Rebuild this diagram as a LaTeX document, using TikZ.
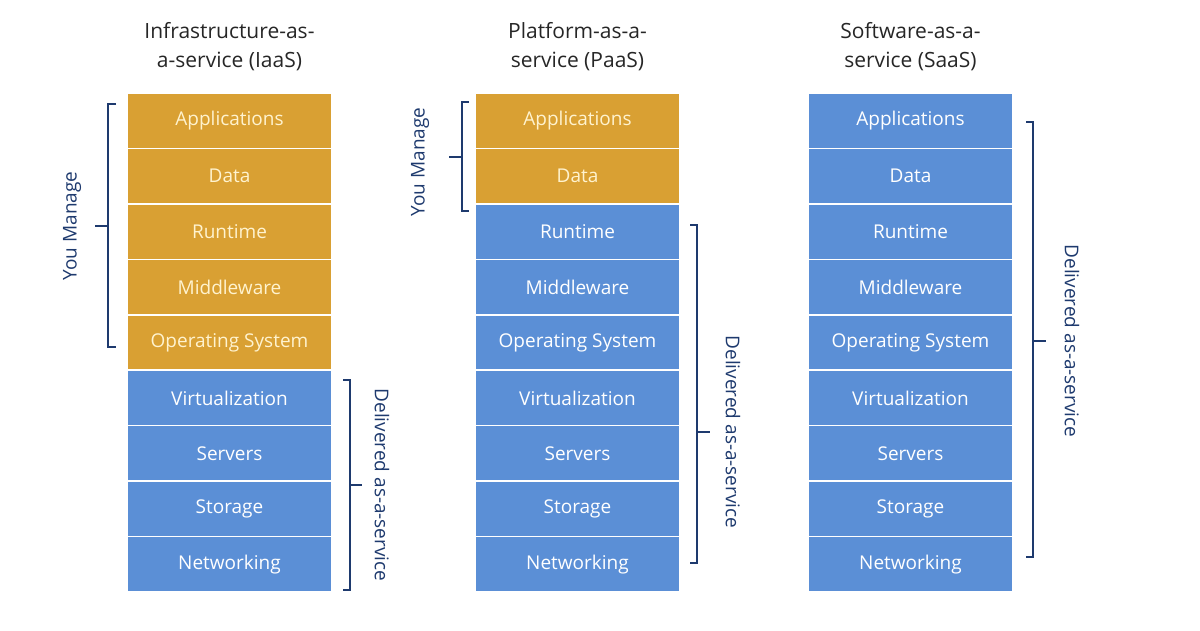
\documentclass[tikz,border=0pt]{standalone}
\usepackage{fontspec}
\setmainfont{Open Sans}
\definecolor{gold}{HTML}{D9A033}
\definecolor{goldtxt}{HTML}{FFF3CF}
\definecolor{blu}{HTML}{5B8FD6}
\definecolor{navy}{HTML}{1E3A6E}
\begin{document}
\begin{tikzpicture}[x=1pt,y=-1pt,
  cell/.style={draw=white,line width=1.5pt,minimum width=205pt,minimum height=55.4pt,inner sep=0pt,font=\fontsize{19}{20}\selectfont},
  you/.style={cell,fill=gold,text=goldtxt},
  del/.style={cell,fill=blu,text=white},
  head/.style={align=center,font=\fontsize{21}{29}\selectfont,text=black!85},
  brk/.style={draw=navy,line width=1.4pt},
  blab/.style={text=navy,font=\fontsize{19}{20}\selectfont}]
\useasboundingbox (0,0) rectangle (1200,630);
\def\layers{Applications,Data,Runtime,Middleware,Operating System,Virtualization,Servers,Storage,Networking}
% columns: name/x/number of managed layers
\foreach \c/\x/\m in {i/229.5/5,p/577.5/2,s/910.5/0}{
  \foreach \l [count=\k from 0] in \layers{
    \ifnum\k<\m \def\st{you}\else\def\st{del}\fi
    \node[\st] (\c\k) at (\x,{120.7+55.45*\k}) {\l};
  }
}
\node[head] (hi) at (229.5,47) {Infrastructure-as-\\a-service (IaaS)};
\node[head] (hp) at (577.5,47) {Platform-as-a-\\service (PaaS)};
\node[head] (hs) at (910.5,47) {Software-as-a-\\service (SaaS)};
% brackets
\draw[brk] (116,104) -- (108,104) -- (108,347) -- (116,347) (108,226) -- (95,226);
\node[blab,rotate=90] (ym1) at (72,226) {You Manage};
\draw[brk] (343,380) -- (350,380) -- (350,590) -- (343,590) (350,485) -- (362,485);
\node[blab,rotate=-90] (d1) at (382,485) {Delivered as-a-service};
\draw[brk] (469,102) -- (462,102) -- (462,211) -- (469,211) (462,157) -- (449,157);
\node[blab,rotate=90] (ym2) at (420,162) {You Manage};
\draw[brk] (690,225) -- (697,225) -- (697,563) -- (690,563) (697,432) -- (710,432);
\node[blab,rotate=-90] (d2) at (733,432) {Delivered as-a-service};
\draw[brk] (1026,122) -- (1033,122) -- (1033,557) -- (1026,557) (1033,341) -- (1046,341);
\node[blab,rotate=-90] (d3) at (1072,341) {Delivered as-a-service};
\end{tikzpicture}
\end{document}
